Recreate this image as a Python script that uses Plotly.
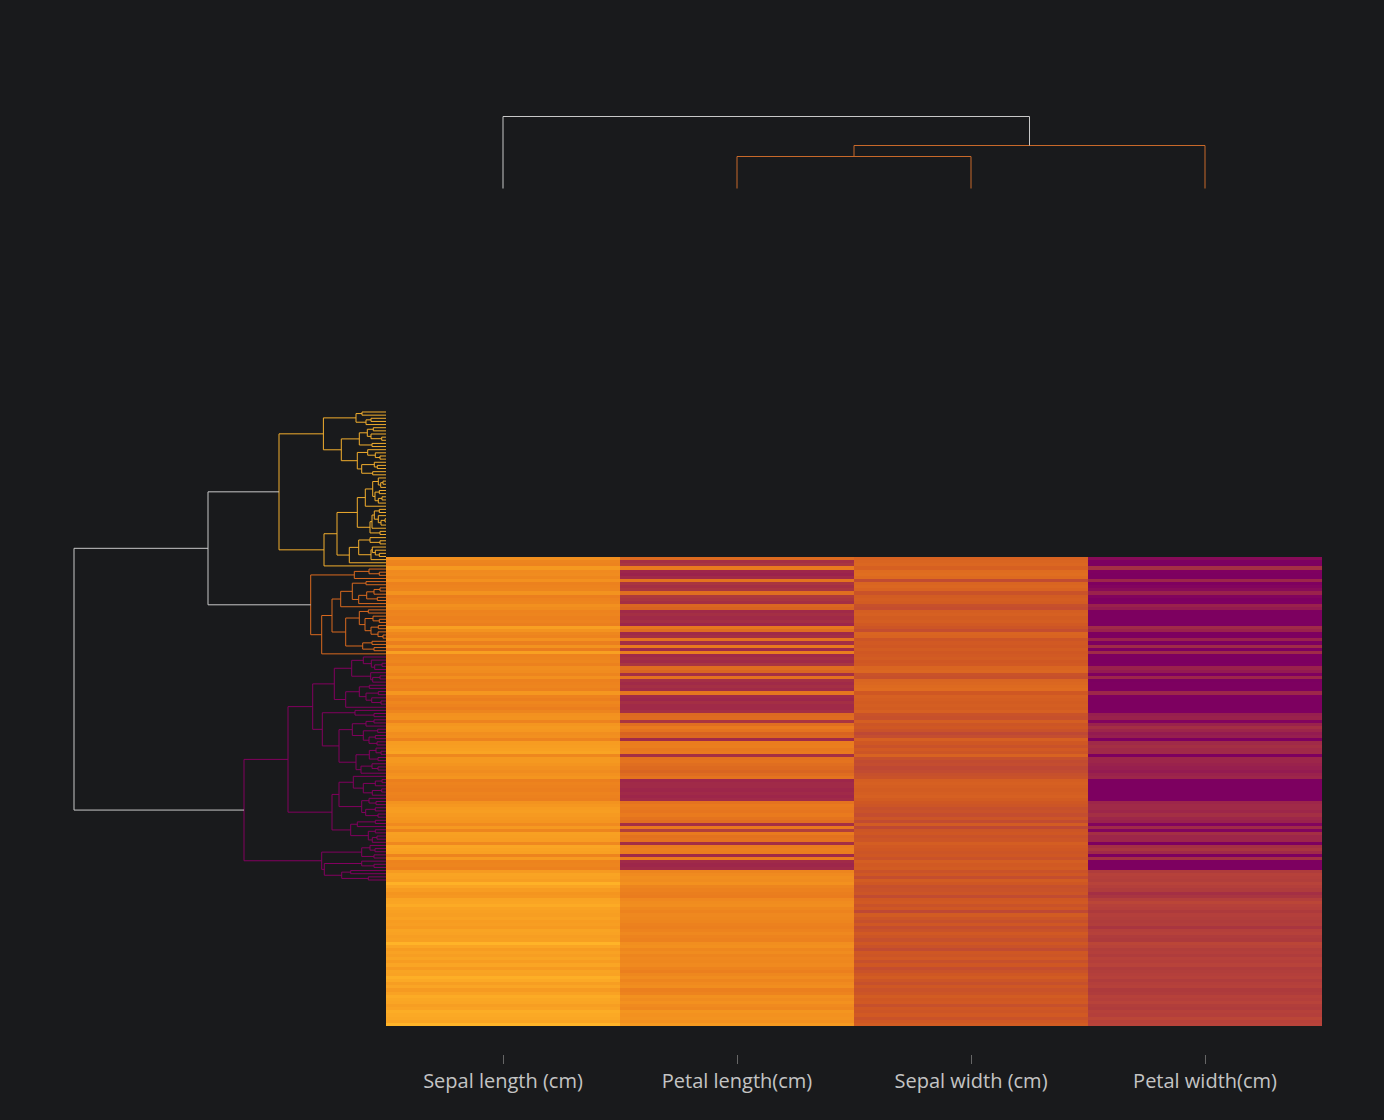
import plotly.graph_objects as go

W, H = 1384, 1120
BG = "#191a1c"

column_labels = ["Sepal length (cm)", "Petal length(cm)", "Sepal width (cm)", "Petal width(cm)"]

sepal_length = [
    5.7,5.1,5.0,6.2,5.4,5.5,5.2,5.8,4.9,5.0,
    5.1,5.9,4.8,5.0,5.1,5.7,5.5,5.0,5.1,4.9,
    5.0,4.8,6.6,5.9,5.2,5.0,5.8,4.8,5.9,4.6,
    6.6,5.0,5.1,5.2,4.9,5.6,5.5,5.1,5.7,4.9,
    5.0,5.1,4.9,6.1,5.0,4.8,5.2,5.0,4.7,5.1,
    5.8,5.9,5.0,6.0,6.2,6.1,5.6,5.7,5.0,6.4,
    6.5,6.6,6.8,5.2,6.2,6.2,6.0,5.7,5.5,5.8,
    6.0,4.8,5.0,4.9,4.8,5.0,4.9,4.8,5.9,6.1,
    6.4,6.5,6.3,6.1,6.0,5.4,6.2,5.1,6.6,6.5,
    6.4,5.3,6.9,6.7,6.6,5.0,6.3,5.0,5.1,4.9,
    6.3,6.8,6.7,6.5,7.6,6.9,6.4,6.0,6.1,6.8,
    6.9,7.2,6.7,6.6,6.5,6.7,6.4,6.5,6.3,6.8,
    6.7,6.5,6.6,7.7,6.9,6.4,6.7,6.5,6.8,6.4,
    6.9,6.3,6.8,6.7,7.4,7.1,6.5,6.9,6.3,6.7,
    7.2,7.0,6.9,6.5,6.7,7.3,7.1,7.0,6.8,7.7,
]
petal_length = [
    3.8,1.5,1.6,4.5,1.3,1.2,1.4,4.2,1.6,1.5,
    1.6,4.0,1.7,1.6,1.5,3.7,3.5,1.4,1.5,1.4,
    1.5,1.3,4.4,3.9,1.4,1.5,4.2,1.5,4.5,1.4,
    4.7,1.4,1.5,1.4,1.6,3.9,3.6,1.5,4.1,1.5,
    1.4,1.5,1.4,4.3,1.4,1.3,1.5,1.4,1.4,1.5,
    3.8,3.9,1.6,4.0,4.5,4.2,3.5,3.7,1.4,4.6,
    4.7,4.4,4.5,1.5,4.1,4.2,4.0,3.8,3.6,3.9,
    4.2,1.3,1.4,1.4,1.3,1.4,1.3,1.4,4.2,4.5,
    4.4,4.3,4.5,4.2,4.0,1.5,4.4,1.9,4.5,4.1,
    4.2,1.5,4.6,4.8,4.7,1.4,4.5,1.4,1.3,1.4,
    5.1,5.4,5.6,5.5,5.8,5.1,4.9,4.7,4.6,5.3,
    5.5,5.6,5.2,5.0,5.3,5.2,5.1,4.9,4.8,5.0,
    5.3,5.0,4.9,5.6,5.7,5.2,5.5,5.1,5.3,5.2,
    5.4,5.0,4.8,5.2,5.5,5.1,5.4,5.6,4.8,5.0,
    5.7,5.5,5.8,5.4,5.2,6.0,5.8,5.9,5.7,6.2,
]
sepal_width = [
    3.5,3.6,3.7,3.4,3.9,4.0,3.8,2.5,3.6,3.7,
    3.5,2.8,3.2,3.3,3.2,2.7,2.6,3.3,3.4,3.2,
    3.3,3.1,2.9,2.6,3.6,3.5,2.9,3.1,3.0,3.2,
    3.0,3.1,3.2,3.0,3.1,3.6,3.7,2.8,2.7,3.6,
    3.7,3.8,3.9,3.0,3.4,3.3,3.2,3.3,3.2,3.4,
    2.8,2.7,3.3,2.9,3.0,2.8,2.4,2.6,3.4,3.0,
    2.8,3.1,2.9,3.5,2.7,2.5,2.6,2.4,2.5,2.7,
    2.8,3.3,3.4,3.3,3.2,3.3,3.4,3.2,3.0,2.9,
    2.7,2.8,2.6,2.9,2.5,3.2,2.4,2.9,3.0,2.8,
    2.9,3.3,3.1,3.0,2.9,3.0,2.8,3.3,3.1,3.2,
    2.8,3.0,2.6,3.2,3.0,2.7,2.8,2.9,2.5,3.0,
    3.1,2.8,3.0,2.4,3.2,2.9,2.7,3.0,2.6,2.8,
    3.1,2.9,2.7,3.0,2.8,2.5,3.0,2.9,3.1,2.7,
    3.0,2.6,2.8,3.0,3.2,2.9,2.7,3.0,2.8,2.9,
    3.2,3.0,3.1,2.7,3.0,2.9,3.1,2.8,3.0,3.2,
]
petal_width = [
    0.6,0.2,0.2,1.5,0.3,0.2,0.2,1.3,0.3,0.4,
    0.6,1.2,0.4,0.2,0.3,1.2,1.0,0.2,0.2,0.2,
    0.2,0.2,1.4,1.2,0.2,0.2,1.2,0.2,1.4,0.2,
    1.4,0.2,0.2,0.2,0.3,1.2,1.0,0.3,1.3,0.1,
    0.2,0.2,0.2,1.3,0.3,0.2,0.2,0.2,0.2,0.3,
    1.1,1.2,0.4,1.2,1.5,1.3,1.0,1.1,0.2,1.4,
    1.5,1.4,1.4,0.2,1.3,1.3,1.2,1.1,1.0,1.2,
    1.3,0.2,0.2,0.2,0.2,0.2,0.2,0.2,1.3,1.4,
    1.4,1.3,1.5,1.3,1.2,0.4,1.4,0.4,1.5,1.3,
    1.3,0.2,1.5,1.6,1.4,0.2,1.5,0.2,0.2,0.2,
    1.8,2.1,2.0,1.9,2.2,2.0,1.8,1.5,1.6,2.0,
    2.3,2.1,2.0,1.7,2.0,1.9,1.8,1.9,1.6,2.0,
    2.1,1.8,1.7,2.3,2.2,1.9,2.0,1.8,2.1,2.0,
    2.2,1.8,1.9,2.0,2.1,1.8,2.0,2.1,1.7,1.8,
    2.1,2.0,2.2,1.9,1.8,2.1,2.0,2.3,2.1,2.2,
]

color_stops = [(0.1, "#7b0060"), (0.3, "#7f0060"), (1.4, "#a02a48"), (1.7, "#ad3a3c"), (2.2, "#b8433a"),
               (3.0, "#cf5723"), (4.5, "#e97a1e"), (6.0, "#f4951f"), (7.7, "#ffb428")]

# Row dendrogram, merge distances: [distance, upper child, lower child], 0 is a single row.
tree_yellow = [107,
    [62.6,
        [30, [24,0,0], [20,[15,0,0],0]],
        [44.7,
            [26.7, [18.7,[12.7,0,0],[15,0,[4.3,0,0]]], [14,0,0]],
            [28.7,
                [18.3,0,[10.7,0,[6,0,0]]],
                [24.3,[11.7,0,[8.7,0,0]],[13.3,0,0]]]]],
    [62,
        [49,
            [28.7,
                [20.7,
                    [13.3,[7.7,0,[5.3,[3,0,0],0]],[11,[6.7,0,0],[7.7,[4,0,0],0]]],
                    0],
                [16,
                    [14,[11.7,[6.7,0,0],[7.7,0,[5,[1,0,0],0]]],0],
                    [6,0,0]]],
            [36.7,
                [27.3,
                    [16,0,[6,0,0]],
                    [15,[13.7,0,[10.7,0,[6.7,0,0]]],0]],
                0]],
        0]]

tree_orange = [75.3,
    [31.7,[17,0,[6.7,0,0]],0],
    [64.3,
        [54,
            [45.3,
                [33.7,
                    [20,0,0],
                    [27.3,[19.3,[12,[6,0,0],0],[8.7,0,0]],0]],
                0],
            [40.3,
                [26.7,
                    [17.7,0,0],
                    [21,[13,0,[6.7,0,0]],[15,[7.7,0,0],[8,0,[3,0,0]]]]],
                [23.3,[14,0,0],[12,0,0]]]],
        0]]

tree_magenta = [142,
    [98,
        [73.3,
            [51.7,
                [34.3,
                    [22.7,0,[14.7,0,[11.3,[4,0,0],0]]],
                    [15.3,0,[13.3,[6,0,0],0]]],
                [40.3,
                    [26.7,[16.7,0,0],[20,[7.7,0,0],[14.3,0,[5,0,0]]]],
                    0]],
            [63.7,
                [31,0,[12,0,0]],
                [47,
                    [33.7,
                        [20,[12,0,0],0],
                        [22.7,[8.3,0,0],[17,[10.7,0,0],[9,0,0]]]],
                    [30,
                        [16.7,[10,0,[5,0,0]],[8,0,0]],
                        [25,[14,0,[8,0,0]],0]]]]],
        [54,
            [47,
                [32.7,0,[22.7,[10.7,[4,0,0],0],[13.7,[4.3,0,0],0]]],
                [24.3,
                    [17,0,[10,0,0]],
                    [20.3,[10.7,0,0],[8,0,0]]]],
            [35.3,
                [28.7,[10.7,0,0],0],
                [17.7,[10.7,0,0],[13.7,[9,0,0],0]]]]],
    [64.3,
        [24.3,[16,0,[11,0,0]],[12,0,0]],
        [61.7,
            [24.3,0,[12,0,0]],
            [44.3,[35.3,0,0],[17.7,0,0]]]]]

upper_merge_distance = 178
root_merge_distance = 312

# Column dendrogram merges: left position, right position, distance.
col_merges = [(1, 2, 3.2), (1.5, 3, 4.3), (0, 2.25, 7.2)]

ROW_COLORS = {"yellow": "#f2ae2e", "orange": "#d9691f", "magenta": "#82005f", "root": "#c8c8c8"}


def trace_tree(node, counter, xs, ys):
    """Walk a tree top-down; return (row position, distance) of the node."""
    if node == 0:
        pos = counter[0]
        counter[0] += 1
        return pos, 0
    h, a, b = node
    pa, da = trace_tree(a, counter, xs, ys)
    pb, db = trace_tree(b, counter, xs, ys)
    xs += [da, h, h, db, None]
    ys += [pa, pa, pb, pb, None]
    return (pa + pb) / 2, h


def y_dom(top, bottom):
    return [1 - bottom / H, 1 - top / H]


fig = go.Figure()
fig.add_trace(go.Heatmap(
    z=[list(r) for r in zip(sepal_length, petal_length, sepal_width, petal_width)],
    x=[0, 1, 2, 3],
    y=list(range(len(sepal_length))),
    colorscale=[[(v - color_stops[0][0]) / (color_stops[-1][0] - color_stops[0][0]), c] for v, c in color_stops],
    zmin=color_stops[0][0], zmax=color_stops[-1][0],
    showscale=False,
    xaxis="x", yaxis="y",
))

counter = [0]
roots = {}
for name, tree in (("yellow", tree_yellow), ("orange", tree_orange), ("magenta", tree_magenta)):
    xs, ys = [], []
    roots[name] = trace_tree(tree, counter, xs, ys)
    fig.add_trace(go.Scatter(x=xs, y=ys, mode="lines", line=dict(color=ROW_COLORS[name], width=1),
                             xaxis="x2", yaxis="y2", hoverinfo="skip"))

p_upper = (roots["yellow"][0] + roots["orange"][0]) / 2
xs = [roots["yellow"][1], upper_merge_distance, upper_merge_distance, roots["orange"][1], None,
      upper_merge_distance, root_merge_distance, root_merge_distance, roots["magenta"][1]]
ys = [roots["yellow"][0], roots["yellow"][0], roots["orange"][0], roots["orange"][0], None,
      p_upper, p_upper, roots["magenta"][0], roots["magenta"][0]]
fig.add_trace(go.Scatter(x=xs, y=ys, mode="lines", line=dict(color=ROW_COLORS["root"], width=1),
                         xaxis="x2", yaxis="y2", hoverinfo="skip"))

# Column dendrogram
heights = {0: 0.0, 1: 0.0, 2: 0.0, 3: 0.0, 1.5: 3.2, 2.25: 4.3}
for i, (a, b, h) in enumerate(col_merges):
    color = "#c8c8c8" if i == 2 else "#c8692a"
    fig.add_trace(go.Scatter(x=[a, a, b, b], y=[heights[a], h, h, heights[b]], mode="lines",
                             line=dict(color=color, width=1), xaxis="x", yaxis="y3", hoverinfo="skip"))

fig.update_layout(
    width=W, height=H,
    margin=dict(l=0, r=0, t=0, b=0),
    paper_bgcolor=BG, plot_bgcolor=BG,
    showlegend=False,
    font=dict(family="Open Sans", color="#c4c4c4", size=20),
    xaxis=dict(domain=[386 / W, 1322 / W], range=[-0.5, 3.5], anchor="y",
               tickmode="array", tickvals=[0, 1, 2, 3], ticktext=column_labels,
               ticks="outside", ticklen=9, tickcolor="#666666", tickwidth=1,
               showgrid=False, zeroline=False, showline=False,
               tickfont=dict(family="Open Sans", size=20, color="#c4c4c4")),
    yaxis=dict(domain=y_dom(557, 1054), range=[158.45, -0.5], visible=False, anchor="x"),
    xaxis2=dict(domain=[0, 386 / W], range=[386, 0], visible=False, anchor="y2"),
    yaxis2=dict(domain=y_dom(396.3, 895.7), range=[154, -5], visible=False, anchor="x2"),
    yaxis3=dict(domain=y_dom(100.5, 200.5), range=[-1.2, 8.8], visible=False, anchor="x"),
)

fig.write_html("out.html", config={"displayModeBar": False}, post_script=(
    f"document.body.style.margin='0';document.body.style.background='{BG}';"
))
